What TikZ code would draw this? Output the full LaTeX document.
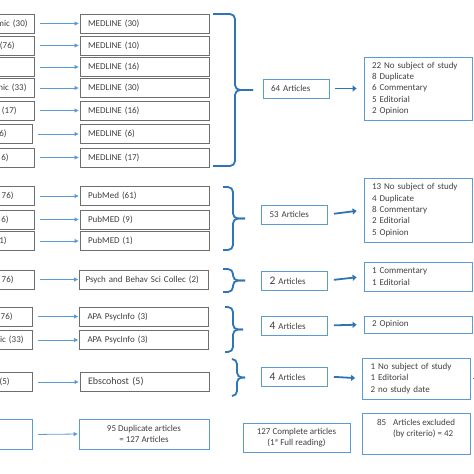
\documentclass[tikz,border=0pt]{standalone}
\usepackage{fontspec}
\setmainfont{Carlito}
\usetikzlibrary{arrows.meta}

\definecolor{boxgray}{HTML}{6E6E6E}
\definecolor{linkblue}{HTML}{5B9BD5}
\definecolor{bracblue}{HTML}{2E75B6}
\definecolor{txtgray}{HTML}{404040}

\tikzset{
  lbox/.style={draw=boxgray, line width=0.9pt, anchor=east, text width=80pt,
    align=right, minimum height=19pt, inner ysep=1pt},
  mbox/.style={draw=boxgray, line width=0.9pt, text width=113pt, inner xsep=8pt,
    align=left, minimum height=19pt, inner ysep=1pt},
  abox/.style={draw=linkblue, line width=0.8pt, text width=50pt, inner xsep=8pt,
    align=left, minimum height=19pt, inner ysep=1pt},
  rbox/.style={draw=linkblue, line width=0.8pt, text width=92pt, inner xsep=8pt,
    align=left, inner ysep=1pt},
  sumbox/.style={draw=linkblue, line width=0.8pt, align=center, inner ysep=1pt},
  flow/.style={draw=linkblue, line width=0.8pt, shorten <=5pt, shorten >=1pt,
    -{Triangle[length=4pt,width=4pt]}},
  bigflow/.style={draw=bracblue, line width=1.8pt, shorten <=6pt, shorten >=7pt,
    -{Triangle[length=4pt,width=6pt]}},
  brc/.style={draw=bracblue, line width=1.8pt, rounded corners=5pt},
}

% arm x, spine x, tip x, top y, bottom y
\newcommand{\grpbrace}[5]{%
  \draw[brc] (#1,#4) -- (#2,#4) -- (#2,{(#4+#5)/2}) -- (#3,{(#4+#5)/2});
  \draw[brc] (#3,{(#4+#5)/2}) -- (#2,{(#4+#5)/2}) -- (#2,#5) -- (#1,#5);
}

\begin{document}
\begin{tikzpicture}[x=1pt, y=-1pt, text=txtgray, font=\fontsize{9}{11.3}\selectfont]
  \useasboundingbox (0,0) rectangle (474,474);
  \clip (0,0) rectangle (474,474);

  % search sources (cut at the left)
  \node[lbox, inner xsep=7pt]  (l1)  at (35,23.5)  {mic (30)};
  \node[lbox, inner xsep=20pt] (l2)  at (35,45.5)  {(76)};
  \node[lbox, inner xsep=8pt]  (l3)  at (35,67)    {};
  \node[lbox, inner xsep=8pt]  (l4)  at (35,88)    {nic (33)};
  \node[lbox, inner xsep=18pt] (l5)  at (35,110.5) {(17)};
  \node[lbox, inner xsep=26pt] (l6)  at (33,134)   {6)};
  \node[lbox, inner xsep=26pt] (l7)  at (35,157.5) {6)};
  \node[lbox, inner xsep=21pt] (l8)  at (35,196)   {76)};
  \node[lbox, inner xsep=26pt] (l9)  at (35,219.5) {6)};
  \node[lbox, inner xsep=28pt] (l10) at (35,241)   {1)};
  \node[lbox, inner xsep=21pt] (l11) at (35,279.5) {76)};
  \node[lbox, inner xsep=20pt] (l12) at (33,316.5) {76)};
  \node[lbox, inner xsep=9pt]  (l13) at (33,340)   {ic (33)};
  \node[lbox, inner xsep=23pt] (l14) at (33,382)   {(5)};
  \node[lbox, draw=linkblue, minimum height=30pt] (l15) at (33,434.5) {};

  % databases
  \node[mbox] (m1)  at (144.5,23.5)  {MEDLINE (30)};
  \node[mbox] (m2)  at (144.5,45.5)  {MEDLINE (10)};
  \node[mbox] (m3)  at (144.5,67)    {MEDLINE (16)};
  \node[mbox] (m4)  at (144.5,88)    {MEDLINE (30)};
  \node[mbox] (m5)  at (144.5,110.5) {MEDLINE (16)};
  \node[mbox] (m6)  at (144.5,134)   {MEDLINE (6)};
  \node[mbox] (m7)  at (144.5,157.5) {MEDLINE (17)};
  \node[mbox] (m8)  at (144.5,196)   {PubMed (61)};
  \node[mbox] (m9)  at (144.5,219.5) {PubMED (9)};
  \node[mbox] (m10) at (144.5,241)   {PubMED (1)};
  \node[mbox, text width=117pt, inner xsep=6pt] (m11) at (144,279.5)
    {Psych and Behav Sci Collec (2)};
  \node[mbox] (m12) at (144,316.5)   {APA PsycInfo (3)};
  \node[mbox] (m13) at (144,340)     {APA PsycInfo (3)};
  \node[mbox, font=\fontsize{10}{11}\selectfont] (m14) at (144.5,382) {Ebscohost (5)};
  \node[sumbox, minimum width=130pt, minimum height=30pt] (m15) at (144,434)
    {95 Duplicate articles\\= 127 Articles};

  \foreach \i in {1,...,15}
    \draw[flow] (l\i.east) -- (m\i.west);

  % braces
  \grpbrace{213}{235}{253}{14}{166}
  \grpbrace{223}{233}{245}{187}{250}
  \grpbrace{223}{233}{245}{269}{292}
  \grpbrace{225}{233}{243}{307}{352}
  \grpbrace{232}{237}{245}{359}{396}

  % totals
  \node[abox] (a1) at (296,88.5)    {64 Articles};
  \node[abox] (a2) at (294.5,214.5) {53 Articles};
  \node[abox] (a3) at (294.5,280.5) {{\fontsize{11.5}{11}\selectfont 2} Articles};
  \node[abox] (a4) at (294.5,325.5) {{\fontsize{11.5}{11}\selectfont 4} Articles};
  \node[abox] (a5) at (294.5,376.5) {{\fontsize{11.5}{11}\selectfont 4} Articles};

  % exclusions
  \node[rbox, minimum height=63pt] (r1) at (418,88.5)
    {22 No subject of study\\8 Duplicate\\6 Commentary\\5 Editorial\\2 Opinion};
  \node[rbox, minimum height=64pt] (r2) at (418,210)
    {13 No subject of study\\4 Duplicate\\8 Commentary\\2 Editorial\\5 Opinion};
  \node[rbox, minimum height=29pt] (r3) at (418,276.5)
    {1 Commentary\\1 Editorial};
  \node[rbox, minimum height=17pt] (r4) at (418,324.5) {2 Opinion};
  \node[rbox, minimum height=41pt] (r5) at (416.5,378.5)
    {1 No subject of study\\1 Editorial\\2 no study date};

  \foreach \i in {1,...,5}
    \draw[bigflow] (a\i.east) -- (r\i.west);

  \coordinate (off) at (495,378.5);
  \draw[draw=bracblue, line width=1pt, shorten <=2pt] (r5.east) -- (off);

  % full reading
  \node[sumbox, minimum width=107pt, minimum height=29pt] (full) at (296.5,437.5)
    {127 Complete articles\\(1ª Full reading)};
  \node[sumbox, align=left, minimum width=108pt, minimum height=41pt] (excl) at (416,433.5)
    {85\hspace{7pt}Articles excluded\\\hspace{16pt}(by criterio) = 42\\\mbox{}};
\end{tikzpicture}
\end{document}
